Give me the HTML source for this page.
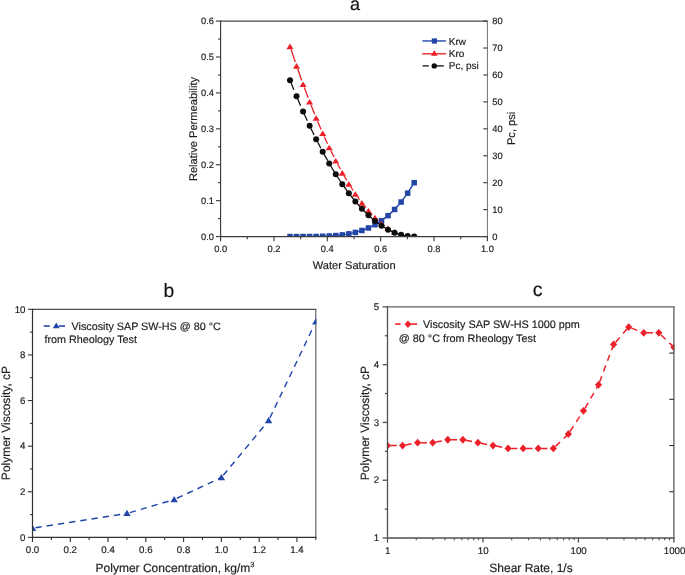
<!DOCTYPE html>
<html><head><meta charset="utf-8"><title>Figure</title>
<style>
html,body{margin:0;padding:0;background:#fff;}
body{width:685px;height:575px;overflow:hidden;}
svg{display:block;filter:blur(0.32px);font-family:"Liberation Sans",sans-serif;text-rendering:geometricPrecision;}
text{stroke:#1e1e1e;stroke-width:0.18px;}
</style></head><body>
<svg width="685" height="575" viewBox="0 0 685 575">
<rect width="685" height="575" fill="#ffffff"/>
<text x="354.9" y="10" font-size="18" text-anchor="middle" fill="#111" >a</text>
<clipPath id="ca"><rect x="220.6" y="21.1" width="266.8" height="215.45"/></clipPath>
<g clip-path="url(#ca)">
<polyline points="290,236.55 296.54,236.55 303.07,236.54 309.61,236.52 316.15,236.44 322.68,236.29 329.22,236.01 335.76,235.56 342.29,234.86 348.83,233.84 355.37,232.42 361.91,230.5 368.44,227.98 374.98,224.75 381.52,220.67 388.05,215.63 394.59,209.46 401.13,202.03 407.66,193.16 414.2,182.69" fill="none" stroke="#2146a8" stroke-width="1.4"/>
<rect x="287.25" y="233.8" width="5.5" height="5.5" fill="#2146a8"/>
<rect x="293.79" y="233.8" width="5.5" height="5.5" fill="#2146a8"/>
<rect x="300.32" y="233.79" width="5.5" height="5.5" fill="#2146a8"/>
<rect x="306.86" y="233.77" width="5.5" height="5.5" fill="#2146a8"/>
<rect x="313.4" y="233.69" width="5.5" height="5.5" fill="#2146a8"/>
<rect x="319.93" y="233.54" width="5.5" height="5.5" fill="#2146a8"/>
<rect x="326.47" y="233.26" width="5.5" height="5.5" fill="#2146a8"/>
<rect x="333.01" y="232.81" width="5.5" height="5.5" fill="#2146a8"/>
<rect x="339.54" y="232.11" width="5.5" height="5.5" fill="#2146a8"/>
<rect x="346.08" y="231.09" width="5.5" height="5.5" fill="#2146a8"/>
<rect x="352.62" y="229.67" width="5.5" height="5.5" fill="#2146a8"/>
<rect x="359.16" y="227.75" width="5.5" height="5.5" fill="#2146a8"/>
<rect x="365.69" y="225.23" width="5.5" height="5.5" fill="#2146a8"/>
<rect x="372.23" y="222" width="5.5" height="5.5" fill="#2146a8"/>
<rect x="378.77" y="217.92" width="5.5" height="5.5" fill="#2146a8"/>
<rect x="385.3" y="212.88" width="5.5" height="5.5" fill="#2146a8"/>
<rect x="391.84" y="206.71" width="5.5" height="5.5" fill="#2146a8"/>
<rect x="398.38" y="199.28" width="5.5" height="5.5" fill="#2146a8"/>
<rect x="404.91" y="190.41" width="5.5" height="5.5" fill="#2146a8"/>
<rect x="411.45" y="179.94" width="5.5" height="5.5" fill="#2146a8"/>
<line x1="291.11" y1="49.55" x2="295.27" y2="61.95" stroke="#ec2028" stroke-width="1.3" />
<line x1="297.71" y1="69.04" x2="301.74" y2="80.42" stroke="#ec2028" stroke-width="1.3" />
<line x1="304.3" y1="87.47" x2="308.2" y2="97.85" stroke="#ec2028" stroke-width="1.3" />
<line x1="310.91" y1="104.84" x2="314.66" y2="114.22" stroke="#ec2028" stroke-width="1.3" />
<line x1="317.52" y1="121.15" x2="321.11" y2="129.54" stroke="#ec2028" stroke-width="1.3" />
<line x1="324.14" y1="136.4" x2="327.55" y2="143.82" stroke="#ec2028" stroke-width="1.3" />
<line x1="330.78" y1="150.59" x2="333.98" y2="157.05" stroke="#ec2028" stroke-width="1.3" />
<line x1="337.42" y1="163.72" x2="340.4" y2="169.24" stroke="#ec2028" stroke-width="1.3" />
<line x1="344.07" y1="175.77" x2="346.8" y2="180.39" stroke="#ec2028" stroke-width="1.3" />
<line x1="350.74" y1="186.76" x2="353.18" y2="190.5" stroke="#ec2028" stroke-width="1.3" />
<line x1="357.43" y1="196.68" x2="359.55" y2="199.58" stroke="#ec2028" stroke-width="1.3" />
<line x1="364.14" y1="205.51" x2="365.89" y2="207.63" stroke="#ec2028" stroke-width="1.3" />
<line x1="370.86" y1="213.25" x2="372.22" y2="214.68" stroke="#ec2028" stroke-width="1.3" />
<line x1="377.6" y1="219.89" x2="378.52" y2="220.72" stroke="#ec2028" stroke-width="1.3" />
<line x1="384.35" y1="225.43" x2="384.82" y2="225.77" stroke="#ec2028" stroke-width="1.3" />
<polygon points="290,43.54 286.45,49.14 293.55,49.14" fill="#ec2028"/>
<polygon points="296.54,63.04 292.99,68.64 300.09,68.64" fill="#ec2028"/>
<polygon points="303.07,81.49 299.52,87.09 306.62,87.09" fill="#ec2028"/>
<polygon points="309.61,98.89 306.06,104.49 313.16,104.49" fill="#ec2028"/>
<polygon points="316.15,115.23 312.6,120.83 319.7,120.83" fill="#ec2028"/>
<polygon points="322.68,130.52 319.13,136.12 326.23,136.12" fill="#ec2028"/>
<polygon points="329.22,144.76 325.67,150.36 332.77,150.36" fill="#ec2028"/>
<polygon points="335.76,157.94 332.21,163.54 339.31,163.54" fill="#ec2028"/>
<polygon points="342.29,170.06 338.74,175.66 345.84,175.66" fill="#ec2028"/>
<polygon points="348.83,181.13 345.28,186.73 352.38,186.73" fill="#ec2028"/>
<polygon points="355.37,191.15 351.82,196.75 358.92,196.75" fill="#ec2028"/>
<polygon points="361.91,200.11 358.36,205.71 365.46,205.71" fill="#ec2028"/>
<polygon points="368.44,208.02 364.89,213.62 371.99,213.62" fill="#ec2028"/>
<polygon points="374.98,214.87 371.43,220.47 378.53,220.47" fill="#ec2028"/>
<polygon points="381.52,220.67 377.97,226.27 385.07,226.27" fill="#ec2028"/>
<polygon points="388.05,225.42 384.5,231.02 391.6,231.02" fill="#ec2028"/>
<polygon points="394.59,229.11 391.04,234.71 398.14,234.71" fill="#ec2028"/>
<polygon points="401.13,231.74 397.58,237.34 404.68,237.34" fill="#ec2028"/>
<polygon points="407.66,233.32 404.11,238.92 411.21,238.92" fill="#ec2028"/>
<polygon points="414.2,233.85 410.65,239.45 417.75,239.45" fill="#ec2028"/>
<line x1="290" y1="80.35" x2="296.54" y2="96.36" stroke="#0c0c0c" stroke-width="1.25" stroke-dasharray="0 2.4 7.8 8 7.8 8 7.8 8 7.8 8 7.8 8 7.8 8 7.8 8 7.8 8 7.8 8"/>
<line x1="296.54" y1="96.36" x2="303.07" y2="111.5" stroke="#0c0c0c" stroke-width="1.25" stroke-dasharray="0 2.4 7.8 8 7.8 8 7.8 8 7.8 8 7.8 8 7.8 8 7.8 8 7.8 8 7.8 8"/>
<line x1="303.07" y1="111.5" x2="309.61" y2="125.78" stroke="#0c0c0c" stroke-width="1.25" stroke-dasharray="0 2.4 7.8 8 7.8 8 7.8 8 7.8 8 7.8 8 7.8 8 7.8 8 7.8 8 7.8 8"/>
<line x1="309.61" y1="125.78" x2="316.15" y2="139.19" stroke="#0c0c0c" stroke-width="1.25" stroke-dasharray="0 2.4 7.8 8 7.8 8 7.8 8 7.8 8 7.8 8 7.8 8 7.8 8 7.8 8 7.8 8"/>
<line x1="316.15" y1="139.19" x2="322.68" y2="151.74" stroke="#0c0c0c" stroke-width="1.25" stroke-dasharray="0 2.4 7.8 8 7.8 8 7.8 8 7.8 8 7.8 8 7.8 8 7.8 8 7.8 8 7.8 8"/>
<line x1="322.68" y1="151.74" x2="329.22" y2="163.43" stroke="#0c0c0c" stroke-width="1.25" stroke-dasharray="0 2.4 7.8 8 7.8 8 7.8 8 7.8 8 7.8 8 7.8 8 7.8 8 7.8 8 7.8 8"/>
<line x1="329.22" y1="163.43" x2="335.76" y2="174.24" stroke="#0c0c0c" stroke-width="1.25" stroke-dasharray="0 2.4 7.8 8 7.8 8 7.8 8 7.8 8 7.8 8 7.8 8 7.8 8 7.8 8 7.8 8"/>
<line x1="335.76" y1="174.24" x2="342.29" y2="184.19" stroke="#0c0c0c" stroke-width="1.25" stroke-dasharray="0 2.4 7.8 8 7.8 8 7.8 8 7.8 8 7.8 8 7.8 8 7.8 8 7.8 8 7.8 8"/>
<line x1="342.29" y1="184.19" x2="348.83" y2="193.28" stroke="#0c0c0c" stroke-width="1.25" stroke-dasharray="0 2.4 7.8 8 7.8 8 7.8 8 7.8 8 7.8 8 7.8 8 7.8 8 7.8 8 7.8 8"/>
<line x1="348.83" y1="193.28" x2="355.37" y2="201.5" stroke="#0c0c0c" stroke-width="1.25" stroke-dasharray="0 2.4 7.8 8 7.8 8 7.8 8 7.8 8 7.8 8 7.8 8 7.8 8 7.8 8 7.8 8"/>
<line x1="355.37" y1="201.5" x2="361.91" y2="208.86" stroke="#0c0c0c" stroke-width="1.25" stroke-dasharray="0 2.4 7.8 8 7.8 8 7.8 8 7.8 8 7.8 8 7.8 8 7.8 8 7.8 8 7.8 8"/>
<line x1="361.91" y1="208.86" x2="368.44" y2="215.35" stroke="#0c0c0c" stroke-width="1.25" stroke-dasharray="0 2.4 7.8 8 7.8 8 7.8 8 7.8 8 7.8 8 7.8 8 7.8 8 7.8 8 7.8 8"/>
<line x1="368.44" y1="215.35" x2="374.98" y2="220.97" stroke="#0c0c0c" stroke-width="1.25" stroke-dasharray="0 2.4 7.8 8 7.8 8 7.8 8 7.8 8 7.8 8 7.8 8 7.8 8 7.8 8 7.8 8"/>
<line x1="374.98" y1="220.97" x2="381.52" y2="225.73" stroke="#0c0c0c" stroke-width="1.25" stroke-dasharray="0 2.4 7.8 8 7.8 8 7.8 8 7.8 8 7.8 8 7.8 8 7.8 8 7.8 8 7.8 8"/>
<line x1="381.52" y1="225.73" x2="388.05" y2="229.63" stroke="#0c0c0c" stroke-width="1.25" stroke-dasharray="0 2.4 7.8 8 7.8 8 7.8 8 7.8 8 7.8 8 7.8 8 7.8 8 7.8 8 7.8 8"/>
<line x1="388.05" y1="229.63" x2="394.59" y2="232.66" stroke="#0c0c0c" stroke-width="1.25" stroke-dasharray="0 2.4 7.8 8 7.8 8 7.8 8 7.8 8 7.8 8 7.8 8 7.8 8 7.8 8 7.8 8"/>
<line x1="394.59" y1="232.66" x2="401.13" y2="234.82" stroke="#0c0c0c" stroke-width="1.25" stroke-dasharray="0 2.4 7.8 8 7.8 8 7.8 8 7.8 8 7.8 8 7.8 8 7.8 8 7.8 8 7.8 8"/>
<line x1="401.13" y1="234.82" x2="407.66" y2="236.12" stroke="#0c0c0c" stroke-width="1.25" stroke-dasharray="0 2.4 7.8 8 7.8 8 7.8 8 7.8 8 7.8 8 7.8 8 7.8 8 7.8 8 7.8 8"/>
<line x1="407.66" y1="236.12" x2="414.2" y2="236.55" stroke="#0c0c0c" stroke-width="1.25" stroke-dasharray="0 2.4 7.8 8 7.8 8 7.8 8 7.8 8 7.8 8 7.8 8 7.8 8 7.8 8 7.8 8"/>
<circle cx="290" cy="80.35" r="3" fill="#0c0c0c"/>
<circle cx="296.54" cy="96.36" r="3" fill="#0c0c0c"/>
<circle cx="303.07" cy="111.5" r="3" fill="#0c0c0c"/>
<circle cx="309.61" cy="125.78" r="3" fill="#0c0c0c"/>
<circle cx="316.15" cy="139.19" r="3" fill="#0c0c0c"/>
<circle cx="322.68" cy="151.74" r="3" fill="#0c0c0c"/>
<circle cx="329.22" cy="163.43" r="3" fill="#0c0c0c"/>
<circle cx="335.76" cy="174.24" r="3" fill="#0c0c0c"/>
<circle cx="342.29" cy="184.19" r="3" fill="#0c0c0c"/>
<circle cx="348.83" cy="193.28" r="3" fill="#0c0c0c"/>
<circle cx="355.37" cy="201.5" r="3" fill="#0c0c0c"/>
<circle cx="361.91" cy="208.86" r="3" fill="#0c0c0c"/>
<circle cx="368.44" cy="215.35" r="3" fill="#0c0c0c"/>
<circle cx="374.98" cy="220.97" r="3" fill="#0c0c0c"/>
<circle cx="381.52" cy="225.73" r="3" fill="#0c0c0c"/>
<circle cx="388.05" cy="229.63" r="3" fill="#0c0c0c"/>
<circle cx="394.59" cy="232.66" r="3" fill="#0c0c0c"/>
<circle cx="401.13" cy="234.82" r="3" fill="#0c0c0c"/>
<circle cx="407.66" cy="236.12" r="3" fill="#0c0c0c"/>
<circle cx="414.2" cy="236.55" r="3" fill="#0c0c0c"/>
</g>
<line x1="220.6" y1="21.1" x2="487.9" y2="21.1" stroke="#484a4c" stroke-width="1.2" />
<line x1="487.4" y1="21.1" x2="487.4" y2="236.55" stroke="#707274" stroke-width="1.0" />
<polyline points="220.6,20.5 220.6,236.55 488,236.55" fill="none" stroke="#3c3e40" stroke-width="1.15"/>
<line x1="216" y1="236.55" x2="220.6" y2="236.55" stroke="#3c3e40" stroke-width="1.15" />
<text x="214" y="239.65" font-size="9.3" text-anchor="end" fill="#1e1e1e" >0.0</text>
<line x1="218" y1="218.6" x2="220.6" y2="218.6" stroke="#3c3e40" stroke-width="1.15" />
<line x1="216" y1="200.64" x2="220.6" y2="200.64" stroke="#3c3e40" stroke-width="1.15" />
<text x="214" y="203.74" font-size="9.3" text-anchor="end" fill="#1e1e1e" >0.1</text>
<line x1="218" y1="182.69" x2="220.6" y2="182.69" stroke="#3c3e40" stroke-width="1.15" />
<line x1="216" y1="164.73" x2="220.6" y2="164.73" stroke="#3c3e40" stroke-width="1.15" />
<text x="214" y="167.83" font-size="9.3" text-anchor="end" fill="#1e1e1e" >0.2</text>
<line x1="218" y1="146.78" x2="220.6" y2="146.78" stroke="#3c3e40" stroke-width="1.15" />
<line x1="216" y1="128.82" x2="220.6" y2="128.82" stroke="#3c3e40" stroke-width="1.15" />
<text x="214" y="131.92" font-size="9.3" text-anchor="end" fill="#1e1e1e" >0.3</text>
<line x1="218" y1="110.87" x2="220.6" y2="110.87" stroke="#3c3e40" stroke-width="1.15" />
<line x1="216" y1="92.92" x2="220.6" y2="92.92" stroke="#3c3e40" stroke-width="1.15" />
<text x="214" y="96.02" font-size="9.3" text-anchor="end" fill="#1e1e1e" >0.4</text>
<line x1="218" y1="74.96" x2="220.6" y2="74.96" stroke="#3c3e40" stroke-width="1.15" />
<line x1="216" y1="57.01" x2="220.6" y2="57.01" stroke="#3c3e40" stroke-width="1.15" />
<text x="214" y="60.11" font-size="9.3" text-anchor="end" fill="#1e1e1e" >0.5</text>
<line x1="218" y1="39.05" x2="220.6" y2="39.05" stroke="#3c3e40" stroke-width="1.15" />
<line x1="216" y1="21.1" x2="220.6" y2="21.1" stroke="#3c3e40" stroke-width="1.15" />
<text x="214" y="24.2" font-size="9.3" text-anchor="end" fill="#1e1e1e" >0.6</text>
<line x1="220.6" y1="236.55" x2="220.6" y2="241.15" stroke="#3c3e40" stroke-width="1.15" />
<text x="220.6" y="251.55" font-size="9.3" text-anchor="middle" fill="#1e1e1e" >0.0</text>
<line x1="247.28" y1="236.55" x2="247.28" y2="239.15" stroke="#3c3e40" stroke-width="1.15" />
<line x1="273.96" y1="236.55" x2="273.96" y2="241.15" stroke="#3c3e40" stroke-width="1.15" />
<text x="273.96" y="251.55" font-size="9.3" text-anchor="middle" fill="#1e1e1e" >0.2</text>
<line x1="300.64" y1="236.55" x2="300.64" y2="239.15" stroke="#3c3e40" stroke-width="1.15" />
<line x1="327.32" y1="236.55" x2="327.32" y2="241.15" stroke="#3c3e40" stroke-width="1.15" />
<text x="327.32" y="251.55" font-size="9.3" text-anchor="middle" fill="#1e1e1e" >0.4</text>
<line x1="354" y1="236.55" x2="354" y2="239.15" stroke="#3c3e40" stroke-width="1.15" />
<line x1="380.68" y1="236.55" x2="380.68" y2="241.15" stroke="#3c3e40" stroke-width="1.15" />
<text x="380.68" y="251.55" font-size="9.3" text-anchor="middle" fill="#1e1e1e" >0.6</text>
<line x1="407.36" y1="236.55" x2="407.36" y2="239.15" stroke="#3c3e40" stroke-width="1.15" />
<line x1="434.04" y1="236.55" x2="434.04" y2="241.15" stroke="#3c3e40" stroke-width="1.15" />
<text x="434.04" y="251.55" font-size="9.3" text-anchor="middle" fill="#1e1e1e" >0.8</text>
<line x1="460.72" y1="236.55" x2="460.72" y2="239.15" stroke="#3c3e40" stroke-width="1.15" />
<line x1="487.4" y1="236.55" x2="487.4" y2="241.15" stroke="#3c3e40" stroke-width="1.15" />
<text x="487.4" y="251.55" font-size="9.3" text-anchor="middle" fill="#1e1e1e" >1.0</text>
<line x1="483.3" y1="236.55" x2="487.4" y2="236.55" stroke="#3c3e40" stroke-width="1.15" />
<text x="492.3" y="239.65" font-size="9.3" text-anchor="start" fill="#1e1e1e" >0</text>
<line x1="483.3" y1="209.62" x2="487.4" y2="209.62" stroke="#3c3e40" stroke-width="1.15" />
<text x="492.3" y="212.72" font-size="9.3" text-anchor="start" fill="#1e1e1e" >10</text>
<line x1="483.3" y1="182.69" x2="487.4" y2="182.69" stroke="#3c3e40" stroke-width="1.15" />
<text x="492.3" y="185.79" font-size="9.3" text-anchor="start" fill="#1e1e1e" >20</text>
<line x1="483.3" y1="155.76" x2="487.4" y2="155.76" stroke="#3c3e40" stroke-width="1.15" />
<text x="492.3" y="158.86" font-size="9.3" text-anchor="start" fill="#1e1e1e" >30</text>
<line x1="483.3" y1="128.82" x2="487.4" y2="128.82" stroke="#3c3e40" stroke-width="1.15" />
<text x="492.3" y="131.92" font-size="9.3" text-anchor="start" fill="#1e1e1e" >40</text>
<line x1="483.3" y1="101.89" x2="487.4" y2="101.89" stroke="#3c3e40" stroke-width="1.15" />
<text x="492.3" y="104.99" font-size="9.3" text-anchor="start" fill="#1e1e1e" >50</text>
<line x1="483.3" y1="74.96" x2="487.4" y2="74.96" stroke="#3c3e40" stroke-width="1.15" />
<text x="492.3" y="78.06" font-size="9.3" text-anchor="start" fill="#1e1e1e" >60</text>
<line x1="483.3" y1="48.03" x2="487.4" y2="48.03" stroke="#3c3e40" stroke-width="1.15" />
<text x="492.3" y="51.13" font-size="9.3" text-anchor="start" fill="#1e1e1e" >70</text>
<line x1="483.3" y1="21.1" x2="487.4" y2="21.1" stroke="#3c3e40" stroke-width="1.15" />
<text x="492.3" y="24.2" font-size="9.3" text-anchor="start" fill="#1e1e1e" >80</text>
<text x="354.2" y="268.5" font-size="11.1" text-anchor="middle" fill="#1e1e1e" >Water Saturation</text>
<text x="196.6" y="129" font-size="11.1" text-anchor="middle" fill="#1e1e1e" transform="rotate(-90 196.6 129)" >Relative Permeability</text>
<text x="514.8" y="128.4" font-size="11.1" text-anchor="middle" fill="#1e1e1e" transform="rotate(-90 514.8 128.4)" >Pc, psi</text>
<line x1="422.4" y1="40.95" x2="445.9" y2="40.95" stroke="#2146a8" stroke-width="1.4" />
<rect x="431.8" y="38.4" width="5.2" height="5.2" fill="#2146a8"/>
<line x1="422.3" y1="53.8" x2="446" y2="53.8" stroke="#ec2028" stroke-width="1.35" />
<polygon points="434.3,50.1 431,55.7 437.6,55.7" fill="#ec2028"/>
<line x1="422.6" y1="65.9" x2="428.8" y2="65.9" stroke="#0c0c0c" stroke-width="1.3" />
<line x1="434.3" y1="65.9" x2="443.8" y2="65.9" stroke="#0c0c0c" stroke-width="1.3" />
<circle cx="434.25" cy="65.9" r="2.7" fill="#0c0c0c"/>
<text x="448.8" y="44.6" font-size="10" text-anchor="start" fill="#1e1e1e" >Krw</text>
<text x="448.8" y="57" font-size="10" text-anchor="start" fill="#1e1e1e" >Kro</text>
<text x="448.8" y="69.2" font-size="10" text-anchor="start" fill="#1e1e1e" >Pc, psi</text>
<text x="168.9" y="297.1" font-size="19.3" text-anchor="middle" fill="#111" >b</text>
<clipPath id="cb"><rect x="32.5" y="309.3" width="283.9" height="228.1"/></clipPath>
<line x1="32.5" y1="309.3" x2="316.35" y2="309.3" stroke="#4a4c4e" stroke-width="1.25" />
<line x1="315.8" y1="309.3" x2="315.8" y2="537.4" stroke="#56585a" stroke-width="1.1" />
<polyline points="32.5,308.68 32.5,537.4 316.43,537.4" fill="none" stroke="#303234" stroke-width="1.1"/>
<g clip-path="url(#cb)">
<line x1="32.5" y1="528.28" x2="126.93" y2="513.45" stroke="#2146a8" stroke-width="1.45" stroke-dasharray="0 3 6.3 5.05 6.3 5.05 6.3 5.05 6.3 5.05 6.3 5.05 6.3 5.05 6.3 5.05 6.3 5.05 6.3 5.05"/>
<line x1="126.93" y1="513.45" x2="174.15" y2="499.54" stroke="#2146a8" stroke-width="1.45" stroke-dasharray="0 3 6.3 5.05 6.3 5.05 6.3 5.05 6.3 5.05 6.3 5.05 6.3 5.05 6.3 5.05 6.3 5.05 6.3 5.05"/>
<line x1="174.15" y1="499.54" x2="221.37" y2="477.64" stroke="#2146a8" stroke-width="1.45" stroke-dasharray="0 3 6.3 5.05 6.3 5.05 6.3 5.05 6.3 5.05 6.3 5.05 6.3 5.05 6.3 5.05 6.3 5.05 6.3 5.05"/>
<line x1="221.37" y1="477.64" x2="268.58" y2="420.61" stroke="#2146a8" stroke-width="1.45" stroke-dasharray="0 3 6.3 5.05 6.3 5.05 6.3 5.05 6.3 5.05 6.3 5.05 6.3 5.05 6.3 5.05 6.3 5.05 6.3 5.05"/>
<line x1="268.58" y1="420.61" x2="315.8" y2="321.85" stroke="#2146a8" stroke-width="1.45" stroke-dasharray="0 3 6.3 5.05 6.3 5.05 6.3 5.05 6.3 5.05 6.3 5.05 6.3 5.05 6.3 5.05 6.3 5.05 6.3 5.05"/>
<polygon points="32.5,524.65 28.8,530.95 36.2,530.95" fill="#2146a8"/>
<polygon points="126.93,509.82 123.23,516.12 130.63,516.12" fill="#2146a8"/>
<polygon points="174.15,495.91 170.45,502.21 177.85,502.21" fill="#2146a8"/>
<polygon points="221.37,474.01 217.67,480.31 225.07,480.31" fill="#2146a8"/>
<polygon points="268.58,416.98 264.88,423.28 272.28,423.28" fill="#2146a8"/>
<polygon points="315.8,318.22 312.1,324.52 319.5,324.52" fill="#2146a8"/>
</g>
<line x1="32.5" y1="309.3" x2="32.5" y2="537.4" stroke="#303234" stroke-width="1.1" />
<line x1="27.9" y1="537.4" x2="32.5" y2="537.4" stroke="#303234" stroke-width="1.1" />
<text x="25.5" y="540.6" font-size="9.7" text-anchor="end" fill="#1e1e1e" >0</text>
<line x1="29.9" y1="514.59" x2="32.5" y2="514.59" stroke="#303234" stroke-width="1.1" />
<line x1="27.9" y1="491.78" x2="32.5" y2="491.78" stroke="#303234" stroke-width="1.1" />
<text x="25.5" y="494.98" font-size="9.7" text-anchor="end" fill="#1e1e1e" >2</text>
<line x1="29.9" y1="468.97" x2="32.5" y2="468.97" stroke="#303234" stroke-width="1.1" />
<line x1="27.9" y1="446.16" x2="32.5" y2="446.16" stroke="#303234" stroke-width="1.1" />
<text x="25.5" y="449.36" font-size="9.7" text-anchor="end" fill="#1e1e1e" >4</text>
<line x1="29.9" y1="423.35" x2="32.5" y2="423.35" stroke="#303234" stroke-width="1.1" />
<line x1="27.9" y1="400.54" x2="32.5" y2="400.54" stroke="#303234" stroke-width="1.1" />
<text x="25.5" y="403.74" font-size="9.7" text-anchor="end" fill="#1e1e1e" >6</text>
<line x1="29.9" y1="377.73" x2="32.5" y2="377.73" stroke="#303234" stroke-width="1.1" />
<line x1="27.9" y1="354.92" x2="32.5" y2="354.92" stroke="#303234" stroke-width="1.1" />
<text x="25.5" y="358.12" font-size="9.7" text-anchor="end" fill="#1e1e1e" >8</text>
<line x1="29.9" y1="332.11" x2="32.5" y2="332.11" stroke="#303234" stroke-width="1.1" />
<line x1="27.9" y1="309.3" x2="32.5" y2="309.3" stroke="#303234" stroke-width="1.1" />
<text x="25.5" y="312.5" font-size="9.7" text-anchor="end" fill="#1e1e1e" >10</text>
<line x1="32.5" y1="537.4" x2="32.5" y2="542" stroke="#303234" stroke-width="1.1" />
<text x="32.5" y="553" font-size="9.7" text-anchor="middle" fill="#1e1e1e" >0.0</text>
<line x1="51.39" y1="537.4" x2="51.39" y2="540" stroke="#303234" stroke-width="1.1" />
<line x1="70.27" y1="537.4" x2="70.27" y2="542" stroke="#303234" stroke-width="1.1" />
<text x="70.27" y="553" font-size="9.7" text-anchor="middle" fill="#1e1e1e" >0.2</text>
<line x1="89.16" y1="537.4" x2="89.16" y2="540" stroke="#303234" stroke-width="1.1" />
<line x1="108.05" y1="537.4" x2="108.05" y2="542" stroke="#303234" stroke-width="1.1" />
<text x="108.05" y="553" font-size="9.7" text-anchor="middle" fill="#1e1e1e" >0.4</text>
<line x1="126.93" y1="537.4" x2="126.93" y2="540" stroke="#303234" stroke-width="1.1" />
<line x1="145.82" y1="537.4" x2="145.82" y2="542" stroke="#303234" stroke-width="1.1" />
<text x="145.82" y="553" font-size="9.7" text-anchor="middle" fill="#1e1e1e" >0.6</text>
<line x1="164.71" y1="537.4" x2="164.71" y2="540" stroke="#303234" stroke-width="1.1" />
<line x1="183.59" y1="537.4" x2="183.59" y2="542" stroke="#303234" stroke-width="1.1" />
<text x="183.59" y="553" font-size="9.7" text-anchor="middle" fill="#1e1e1e" >0.8</text>
<line x1="202.48" y1="537.4" x2="202.48" y2="540" stroke="#303234" stroke-width="1.1" />
<line x1="221.37" y1="537.4" x2="221.37" y2="542" stroke="#303234" stroke-width="1.1" />
<text x="221.37" y="553" font-size="9.7" text-anchor="middle" fill="#1e1e1e" >1.0</text>
<line x1="240.25" y1="537.4" x2="240.25" y2="540" stroke="#303234" stroke-width="1.1" />
<line x1="259.14" y1="537.4" x2="259.14" y2="542" stroke="#303234" stroke-width="1.1" />
<text x="259.14" y="553" font-size="9.7" text-anchor="middle" fill="#1e1e1e" >1.2</text>
<line x1="278.03" y1="537.4" x2="278.03" y2="540" stroke="#303234" stroke-width="1.1" />
<line x1="296.91" y1="537.4" x2="296.91" y2="542" stroke="#303234" stroke-width="1.1" />
<text x="296.91" y="553" font-size="9.7" text-anchor="middle" fill="#1e1e1e" >1.4</text>
<line x1="315.8" y1="537.4" x2="315.8" y2="540" stroke="#303234" stroke-width="1.1" />
<text x="95.6" y="571.8" font-size="12" fill="#1e1e1e">Polymer Concentration, kg/m<tspan font-size="7.5" dy="-4.5">3</tspan></text>
<text x="9.8" y="423" font-size="12" text-anchor="middle" fill="#1e1e1e" transform="rotate(-90 9.8 423)" >Polymer Viscosity, cP</text>
<line x1="43.7" y1="326.05" x2="49.8" y2="326.05" stroke="#2146a8" stroke-width="1.6" />
<line x1="58.9" y1="326.05" x2="65" y2="326.05" stroke="#2146a8" stroke-width="1.6" />
<polygon points="56.25,322.45 52.85,328.25 59.65,328.25" fill="#2146a8"/>
<text x="71.5" y="329.9" font-size="10.78" text-anchor="start" fill="#1e1e1e" >Viscosity SAP SW-HS @ 80 °C</text>
<text x="44.4" y="343" font-size="10.78" text-anchor="start" fill="#1e1e1e" >from Rheology Test</text>
<text x="537.6" y="295.8" font-size="19.5" text-anchor="middle" fill="#111" >c</text>
<clipPath id="cc"><rect x="386.9" y="306.85" width="287.6" height="231.15"/></clipPath>
<g clip-path="url(#cc)">
<line x1="387.5" y1="445.54" x2="402.57" y2="445.54" stroke="#ec2028" stroke-width="1.5" stroke-dasharray="0 3 6.3 5.05 6.3 5.05 6.3 5.05 6.3 5.05 6.3 5.05 6.3 5.05 6.3 5.05 6.3 5.05 6.3 5.05"/>
<line x1="402.57" y1="445.54" x2="417.65" y2="442.65" stroke="#ec2028" stroke-width="1.5" stroke-dasharray="0 3 6.3 5.05 6.3 5.05 6.3 5.05 6.3 5.05 6.3 5.05 6.3 5.05 6.3 5.05 6.3 5.05 6.3 5.05"/>
<line x1="417.65" y1="442.65" x2="432.72" y2="442.65" stroke="#ec2028" stroke-width="1.5" stroke-dasharray="0 3 6.3 5.05 6.3 5.05 6.3 5.05 6.3 5.05 6.3 5.05 6.3 5.05 6.3 5.05 6.3 5.05 6.3 5.05"/>
<line x1="432.72" y1="442.65" x2="447.79" y2="439.76" stroke="#ec2028" stroke-width="1.5" stroke-dasharray="0 3 6.3 5.05 6.3 5.05 6.3 5.05 6.3 5.05 6.3 5.05 6.3 5.05 6.3 5.05 6.3 5.05 6.3 5.05"/>
<line x1="447.79" y1="439.76" x2="462.87" y2="439.76" stroke="#ec2028" stroke-width="1.5" stroke-dasharray="0 3 6.3 5.05 6.3 5.05 6.3 5.05 6.3 5.05 6.3 5.05 6.3 5.05 6.3 5.05 6.3 5.05 6.3 5.05"/>
<line x1="462.87" y1="439.76" x2="477.94" y2="442.65" stroke="#ec2028" stroke-width="1.5" stroke-dasharray="0 3 6.3 5.05 6.3 5.05 6.3 5.05 6.3 5.05 6.3 5.05 6.3 5.05 6.3 5.05 6.3 5.05 6.3 5.05"/>
<line x1="477.94" y1="442.65" x2="493.02" y2="445.54" stroke="#ec2028" stroke-width="1.5" stroke-dasharray="0 3 6.3 5.05 6.3 5.05 6.3 5.05 6.3 5.05 6.3 5.05 6.3 5.05 6.3 5.05 6.3 5.05 6.3 5.05"/>
<line x1="493.02" y1="445.54" x2="508.09" y2="448.43" stroke="#ec2028" stroke-width="1.5" stroke-dasharray="0 3 6.3 5.05 6.3 5.05 6.3 5.05 6.3 5.05 6.3 5.05 6.3 5.05 6.3 5.05 6.3 5.05 6.3 5.05"/>
<line x1="508.09" y1="448.43" x2="523.16" y2="448.43" stroke="#ec2028" stroke-width="1.5" stroke-dasharray="0 3 6.3 5.05 6.3 5.05 6.3 5.05 6.3 5.05 6.3 5.05 6.3 5.05 6.3 5.05 6.3 5.05 6.3 5.05"/>
<line x1="523.16" y1="448.43" x2="538.24" y2="448.43" stroke="#ec2028" stroke-width="1.5" stroke-dasharray="0 3 6.3 5.05 6.3 5.05 6.3 5.05 6.3 5.05 6.3 5.05 6.3 5.05 6.3 5.05 6.3 5.05 6.3 5.05"/>
<line x1="538.24" y1="448.43" x2="553.31" y2="448.43" stroke="#ec2028" stroke-width="1.5" stroke-dasharray="0 3 6.3 5.05 6.3 5.05 6.3 5.05 6.3 5.05 6.3 5.05 6.3 5.05 6.3 5.05 6.3 5.05 6.3 5.05"/>
<line x1="553.31" y1="448.43" x2="568.38" y2="433.98" stroke="#ec2028" stroke-width="1.5" stroke-dasharray="0 3 6.3 5.05 6.3 5.05 6.3 5.05 6.3 5.05 6.3 5.05 6.3 5.05 6.3 5.05 6.3 5.05 6.3 5.05"/>
<line x1="568.38" y1="433.98" x2="583.46" y2="410.87" stroke="#ec2028" stroke-width="1.5" stroke-dasharray="0 3 6.3 5.05 6.3 5.05 6.3 5.05 6.3 5.05 6.3 5.05 6.3 5.05 6.3 5.05 6.3 5.05 6.3 5.05"/>
<line x1="583.46" y1="410.87" x2="598.53" y2="384.86" stroke="#ec2028" stroke-width="1.5" stroke-dasharray="0 3 6.3 5.05 6.3 5.05 6.3 5.05 6.3 5.05 6.3 5.05 6.3 5.05 6.3 5.05 6.3 5.05 6.3 5.05"/>
<line x1="598.53" y1="384.86" x2="613.61" y2="344.41" stroke="#ec2028" stroke-width="1.5" stroke-dasharray="0 3 6.3 5.05 6.3 5.05 6.3 5.05 6.3 5.05 6.3 5.05 6.3 5.05 6.3 5.05 6.3 5.05 6.3 5.05"/>
<line x1="613.61" y1="344.41" x2="628.68" y2="327.08" stroke="#ec2028" stroke-width="1.5" stroke-dasharray="0 3 6.3 5.05 6.3 5.05 6.3 5.05 6.3 5.05 6.3 5.05 6.3 5.05 6.3 5.05 6.3 5.05 6.3 5.05"/>
<line x1="628.68" y1="327.08" x2="643.75" y2="332.85" stroke="#ec2028" stroke-width="1.5" stroke-dasharray="0 3 6.3 5.05 6.3 5.05 6.3 5.05 6.3 5.05 6.3 5.05 6.3 5.05 6.3 5.05 6.3 5.05 6.3 5.05"/>
<line x1="643.75" y1="332.85" x2="658.83" y2="332.85" stroke="#ec2028" stroke-width="1.5" stroke-dasharray="0 3 6.3 5.05 6.3 5.05 6.3 5.05 6.3 5.05 6.3 5.05 6.3 5.05 6.3 5.05 6.3 5.05 6.3 5.05"/>
<line x1="658.83" y1="332.85" x2="673.9" y2="347.3" stroke="#ec2028" stroke-width="1.5" stroke-dasharray="0 3 6.3 5.05 6.3 5.05 6.3 5.05 6.3 5.05 6.3 5.05 6.3 5.05 6.3 5.05 6.3 5.05 6.3 5.05"/>
<polygon points="387.5,441.64 391.1,445.54 387.5,449.44 383.9,445.54" fill="#ec2028"/>
<polygon points="402.57,441.64 406.17,445.54 402.57,449.44 398.97,445.54" fill="#ec2028"/>
<polygon points="417.65,438.75 421.25,442.65 417.65,446.55 414.05,442.65" fill="#ec2028"/>
<polygon points="432.72,438.75 436.32,442.65 432.72,446.55 429.12,442.65" fill="#ec2028"/>
<polygon points="447.79,435.86 451.39,439.76 447.79,443.66 444.19,439.76" fill="#ec2028"/>
<polygon points="462.87,435.86 466.47,439.76 462.87,443.66 459.27,439.76" fill="#ec2028"/>
<polygon points="477.94,438.75 481.54,442.65 477.94,446.55 474.34,442.65" fill="#ec2028"/>
<polygon points="493.02,441.64 496.62,445.54 493.02,449.44 489.42,445.54" fill="#ec2028"/>
<polygon points="508.09,444.53 511.69,448.43 508.09,452.33 504.49,448.43" fill="#ec2028"/>
<polygon points="523.16,444.53 526.76,448.43 523.16,452.33 519.56,448.43" fill="#ec2028"/>
<polygon points="538.24,444.53 541.84,448.43 538.24,452.33 534.64,448.43" fill="#ec2028"/>
<polygon points="553.31,444.53 556.91,448.43 553.31,452.33 549.71,448.43" fill="#ec2028"/>
<polygon points="568.38,430.08 571.98,433.98 568.38,437.88 564.78,433.98" fill="#ec2028"/>
<polygon points="583.46,406.97 587.06,410.87 583.46,414.77 579.86,410.87" fill="#ec2028"/>
<polygon points="598.53,380.96 602.13,384.86 598.53,388.76 594.93,384.86" fill="#ec2028"/>
<polygon points="613.61,340.51 617.21,344.41 613.61,348.31 610.01,344.41" fill="#ec2028"/>
<polygon points="628.68,323.18 632.28,327.08 628.68,330.98 625.08,327.08" fill="#ec2028"/>
<polygon points="643.75,328.95 647.35,332.85 643.75,336.75 640.15,332.85" fill="#ec2028"/>
<polygon points="658.83,328.95 662.43,332.85 658.83,336.75 655.23,332.85" fill="#ec2028"/>
<polygon points="673.9,343.4 677.5,347.3 673.9,351.2 670.3,347.3" fill="#ec2028"/>
</g>
<line x1="387.5" y1="306.85" x2="674.55" y2="306.85" stroke="#5c5e60" stroke-width="1.3" />
<line x1="673.9" y1="306.85" x2="673.9" y2="538" stroke="#5c5e60" stroke-width="1.3" />
<polyline points="387.5,306.2 387.5,538 674.55,538" fill="none" stroke="#4e5052" stroke-width="1.3"/>
<line x1="382.6" y1="538" x2="387.5" y2="538" stroke="#4e5052" stroke-width="1.3" />
<text x="379.1" y="541.1" font-size="9.7" text-anchor="end" fill="#1e1e1e" >1</text>
<line x1="384.9" y1="509.11" x2="387.5" y2="509.11" stroke="#4e5052" stroke-width="1.3" />
<line x1="382.6" y1="480.21" x2="387.5" y2="480.21" stroke="#4e5052" stroke-width="1.3" />
<text x="379.1" y="483.31" font-size="9.7" text-anchor="end" fill="#1e1e1e" >2</text>
<line x1="384.9" y1="451.32" x2="387.5" y2="451.32" stroke="#4e5052" stroke-width="1.3" />
<line x1="382.6" y1="422.43" x2="387.5" y2="422.43" stroke="#4e5052" stroke-width="1.3" />
<text x="379.1" y="425.53" font-size="9.7" text-anchor="end" fill="#1e1e1e" >3</text>
<line x1="384.9" y1="393.53" x2="387.5" y2="393.53" stroke="#4e5052" stroke-width="1.3" />
<line x1="382.6" y1="364.64" x2="387.5" y2="364.64" stroke="#4e5052" stroke-width="1.3" />
<text x="379.1" y="367.74" font-size="9.7" text-anchor="end" fill="#1e1e1e" >4</text>
<line x1="384.9" y1="335.74" x2="387.5" y2="335.74" stroke="#4e5052" stroke-width="1.3" />
<line x1="382.6" y1="306.85" x2="387.5" y2="306.85" stroke="#4e5052" stroke-width="1.3" />
<text x="379.1" y="309.95" font-size="9.7" text-anchor="end" fill="#1e1e1e" >5</text>
<line x1="387.5" y1="538" x2="387.5" y2="542.6" stroke="#4e5052" stroke-width="1.3" />
<text x="387.7" y="553.5" font-size="9.7" text-anchor="middle" fill="#1e1e1e" >1</text>
<line x1="416.24" y1="538" x2="416.24" y2="540.3" stroke="#4e5052" stroke-width="1.1" />
<line x1="433.05" y1="538" x2="433.05" y2="540.3" stroke="#4e5052" stroke-width="1.1" />
<line x1="444.98" y1="538" x2="444.98" y2="540.3" stroke="#4e5052" stroke-width="1.1" />
<line x1="454.23" y1="538" x2="454.23" y2="540.3" stroke="#4e5052" stroke-width="1.1" />
<line x1="461.79" y1="538" x2="461.79" y2="540.3" stroke="#4e5052" stroke-width="1.1" />
<line x1="468.18" y1="538" x2="468.18" y2="540.3" stroke="#4e5052" stroke-width="1.1" />
<line x1="473.71" y1="538" x2="473.71" y2="540.3" stroke="#4e5052" stroke-width="1.1" />
<line x1="478.6" y1="538" x2="478.6" y2="540.3" stroke="#4e5052" stroke-width="1.1" />
<line x1="482.97" y1="538" x2="482.97" y2="542.6" stroke="#4e5052" stroke-width="1.3" />
<text x="483.17" y="553.5" font-size="9.7" text-anchor="middle" fill="#1e1e1e" >10</text>
<line x1="511.7" y1="538" x2="511.7" y2="540.3" stroke="#4e5052" stroke-width="1.1" />
<line x1="528.52" y1="538" x2="528.52" y2="540.3" stroke="#4e5052" stroke-width="1.1" />
<line x1="540.44" y1="538" x2="540.44" y2="540.3" stroke="#4e5052" stroke-width="1.1" />
<line x1="549.7" y1="538" x2="549.7" y2="540.3" stroke="#4e5052" stroke-width="1.1" />
<line x1="557.25" y1="538" x2="557.25" y2="540.3" stroke="#4e5052" stroke-width="1.1" />
<line x1="563.65" y1="538" x2="563.65" y2="540.3" stroke="#4e5052" stroke-width="1.1" />
<line x1="569.18" y1="538" x2="569.18" y2="540.3" stroke="#4e5052" stroke-width="1.1" />
<line x1="574.07" y1="538" x2="574.07" y2="540.3" stroke="#4e5052" stroke-width="1.1" />
<line x1="578.43" y1="538" x2="578.43" y2="542.6" stroke="#4e5052" stroke-width="1.3" />
<text x="578.63" y="553.5" font-size="9.7" text-anchor="middle" fill="#1e1e1e" >100</text>
<line x1="607.17" y1="538" x2="607.17" y2="540.3" stroke="#4e5052" stroke-width="1.1" />
<line x1="623.98" y1="538" x2="623.98" y2="540.3" stroke="#4e5052" stroke-width="1.1" />
<line x1="635.91" y1="538" x2="635.91" y2="540.3" stroke="#4e5052" stroke-width="1.1" />
<line x1="645.16" y1="538" x2="645.16" y2="540.3" stroke="#4e5052" stroke-width="1.1" />
<line x1="652.72" y1="538" x2="652.72" y2="540.3" stroke="#4e5052" stroke-width="1.1" />
<line x1="659.11" y1="538" x2="659.11" y2="540.3" stroke="#4e5052" stroke-width="1.1" />
<line x1="664.65" y1="538" x2="664.65" y2="540.3" stroke="#4e5052" stroke-width="1.1" />
<line x1="669.53" y1="538" x2="669.53" y2="540.3" stroke="#4e5052" stroke-width="1.1" />
<line x1="673.9" y1="538" x2="673.9" y2="542.6" stroke="#4e5052" stroke-width="1.3" />
<text x="674.6" y="553.5" font-size="9.7" text-anchor="middle" fill="#1e1e1e" >1000</text>
<line x1="669.3" y1="353.08" x2="673.9" y2="353.08" stroke="#2a2a2a" stroke-width="1.1" />
<line x1="669.3" y1="399.31" x2="673.9" y2="399.31" stroke="#2a2a2a" stroke-width="1.1" />
<line x1="669.3" y1="445.54" x2="673.9" y2="445.54" stroke="#2a2a2a" stroke-width="1.1" />
<line x1="669.3" y1="491.77" x2="673.9" y2="491.77" stroke="#2a2a2a" stroke-width="1.1" />
<text x="531" y="571.6" font-size="12" text-anchor="middle" fill="#1e1e1e" >Shear Rate, 1/s</text>
<text x="369" y="423" font-size="12" text-anchor="middle" fill="#1e1e1e" transform="rotate(-90 369 423)" >Polymer Viscosity, cP</text>
<line x1="395.1" y1="324.1" x2="400.7" y2="324.1" stroke="#ec2028" stroke-width="1.55" />
<line x1="406" y1="324.1" x2="417.2" y2="324.1" stroke="#ec2028" stroke-width="1.55" />
<polygon points="407.95,320.45 411.35,324.25 407.95,328.05 404.55,324.25" fill="#ec2028"/>
<text x="423" y="327.5" font-size="10.82" text-anchor="start" fill="#1e1e1e" >Viscosity SAP SW-HS 1000 ppm</text>
<text x="398.8" y="341.5" font-size="10.82" text-anchor="start" fill="#1e1e1e" >@ 80 °C from Rheology Test</text>
</svg>
</body></html>
